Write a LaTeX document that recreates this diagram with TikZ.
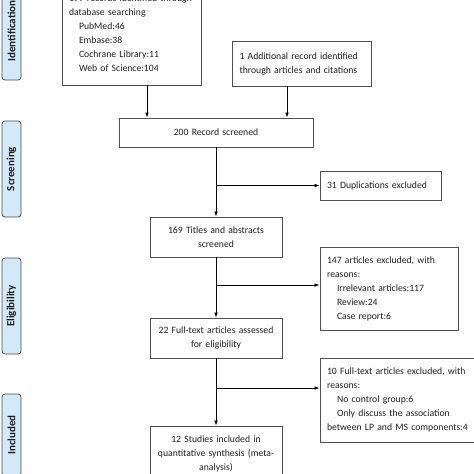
\documentclass[tikz,border=0pt]{standalone}
\usepackage{fontspec}
\setmainfont{Carlito}
\usepackage{tikz}
\usetikzlibrary{arrows.meta,positioning}
\definecolor{stageblue}{HTML}{D3E8F8}
\definecolor{stageedge}{HTML}{4A4A4A}
\definecolor{boxedge}{HTML}{505050}
\definecolor{txtgray}{HTML}{1E1E1E}

\begin{document}
\begin{tikzpicture}[
  x=1pt, y=-1pt,
  font=\fontsize{9.7}{14}\selectfont,
  fbox/.style  = {draw=boxedge, line width=0.8pt, text=txtgray, inner ysep=0pt},
  lbox/.style  = {fbox, align=left, inner xsep=7pt},
  cbox/.style  = {fbox, align=center, inner xsep=4pt},
  stage/.style = {draw=stageedge, fill=stageblue, line width=0.8pt,
                  rounded corners=3pt, rotate=90, minimum height=19pt,
                  inner sep=0pt, text=txtgray,
                  font=\fontsize{11}{13}\selectfont\bfseries},
  arr/.style   = {-{Latex[length=5pt,width=3.6pt]}, line width=0.7pt}
]
\useasboundingbox (0,0) rectangle (474,474);
\clip (0,0) rectangle (474,474);
%% -- Identification --
\node[lbox, text width=125pt, minimum height=104pt] (db) at (131.5,33)
  {199 records identified through\\database searching\\
   \hspace*{10pt}PubMed:46\\\hspace*{10pt}Embase:38\\
   \hspace*{10pt}Cochrane Library:11\\\hspace*{10pt}Web of Science:104};
\node[lbox, text width=124pt, minimum height=45pt, inner xsep=7.5pt] (add) at (301.5,63.5)
  {1 Additional record identified\\through articles and citations};
%% -- Screening --
\node[cbox, text width=186pt, minimum height=29pt] (scr) at (216,132.5) {200 Record screened};
\node[lbox, text width=107pt, minimum height=29pt] (dup) at (380.5,185.5) {31 Duplications excluded};
\node[cbox, text width=124pt, minimum height=40pt] (tit) at (216,237)
  {169 Titles and abstracts\\screened};
%% -- Eligibility --
\node[lbox, text width=124pt, minimum height=83pt] (exc1) at (389,288.5)
  {147 articles excluded, with\\reasons:\\\hspace*{10pt}Irrelevant articles:117\\
   \hspace*{10pt}Review:24\\\hspace*{10pt}Case report:6};
\node[cbox, text width=124pt, minimum height=40pt] (full) at (216,338)
  {22 Full-text articles assessed\\for eligibility};
%% -- Included --
\node[lbox, text width=142pt, minimum height=84pt] (exc2) at (398,400)
  {10 Full-text articles excluded, with\\reasons:\\\hspace*{10pt}No control group:6\\
   \hspace*{10pt}Only discuss the association\\between LP and MS components:4};
\node[cbox, text width=124pt, minimum height=56pt] (incl) at (216,454)
  {12 Studies included in\\quantitative synthesis (meta-\\analysis)};
%% -- Flow --
\draw[arr] ([xshift=15.5pt]db.south) -- ([xshift=15.5pt]db.south |- scr.north);
\draw[arr] ([xshift=-14.5pt]add.south) -- ([xshift=-14.5pt]add.south |- scr.north);
\draw[arr] (scr) -- (tit);
\draw[arr] (tit) -- (full);
\draw[arr] (full) -- (incl);
%% -- Exclusion branches --
\coordinate (b1) at (dup.west);
\coordinate (b2) at ([yshift=3.5pt]exc1.west);
\coordinate (b3) at ([yshift=12pt]exc2.west);
\draw[arr] (scr.south |- b1) -- (b1);
\draw[arr] (tit.south |- b2) -- (b2);
\draw[arr] (full.south |- b3) -- (b3);
%% -- Stage labels --
\foreach \nm/\yy/\len/\lb in {sid/31/98/Identification,sscr/169/96/Screening,
                              selig/306/96/Eligibility,sincl/435/82/Included}{
  \node[stage, minimum width=\len pt] (\nm) at (11.5,\yy) {\lb};}
\end{tikzpicture}
\end{document}
